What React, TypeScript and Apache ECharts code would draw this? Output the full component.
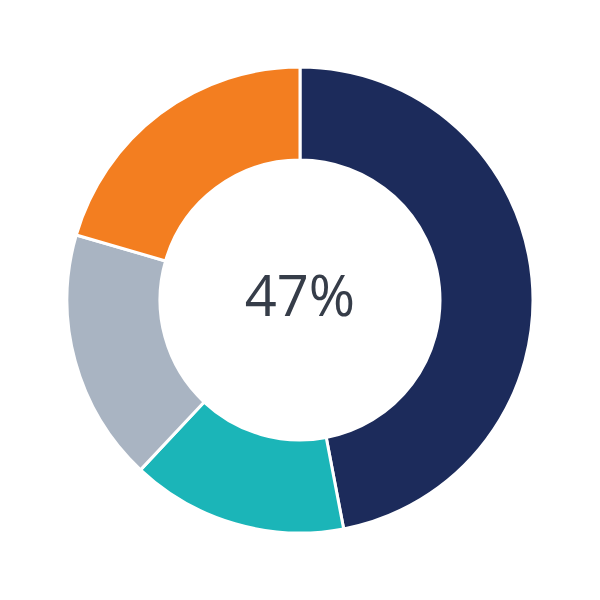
import { useEffect, useRef } from "react";
import * as echarts from "echarts";

const categories = ["Navy", "Teal", "Gray", "Orange"];
const values = [47, 15, 17.5, 20.5];
const colors = ["#1c2b5b", "#1bb5b8", "#a9b4c2", "#f37e20"];
const centerLabel = "47%";

export default function App() {
  const containerRef = useRef<HTMLDivElement>(null);

  useEffect(() => {
    document.body.style.margin = "0";
    if (!containerRef.current) return;
    const chart = echarts.init(containerRef.current, undefined, { renderer: "svg" });

    chart.setOption({
      animation: false,
      backgroundColor: "#ffffff",
      graphic: [
        {
          type: "text",
          x: 300,
          y: 294,
          style: {
            text: centerLabel,
            align: "center",
            verticalAlign: "middle",
            fontFamily: "Open Sans",
            fontWeight: 400,
            fontSize: 56,
            fill: "#363d49",
          },
        },
      ],
      series: [
        {
          type: "pie",
          center: [300, 300],
          radius: [140, 233],
          startAngle: 90,
          clockwise: true,
          label: { show: false },
          labelLine: { show: false },
          itemStyle: { borderColor: "#ffffff", borderWidth: 3 },
          data: categories.map((name, i) => ({
            name,
            value: values[i],
            itemStyle: { color: colors[i] },
          })),
        },
      ],
    });

    return () => chart.dispose();
  }, []);

  return <div ref={containerRef} style={{ width: 600, height: 600 }} />;
}
